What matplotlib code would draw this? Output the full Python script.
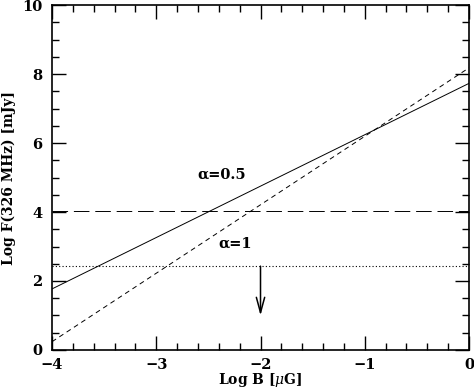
import numpy as np
import matplotlib
matplotlib.use("Agg")
import matplotlib.pyplot as plt
from matplotlib.ticker import MultipleLocator

# data
x_range = [-4.0, 0.0]
alpha05_line = [1.77, 7.73]   # Log F at x = -4 and x = 0
alpha1_line = [0.24, 8.18]
upper_dashed = 4.03
upper_dotted = 2.43
arrow_x = -2.0
arrow_end = 1.0
labels = ["\u03b1=0.5", "\u03b1=1"]
label_pos = [(-2.37, 5.07), (-2.24, 3.07)]

plt.rcParams['font.family'] = ['DejaVu Serif']
plt.rcParams['mathtext.fontset'] = 'dejavuserif'

fig = plt.figure(figsize=(4.74, 3.89), dpi=100)
ax = fig.add_axes([0.1097, 0.1003, 0.8798, 0.8867])

ax.plot(x_range, alpha05_line, color='black', lw=0.7)
ax.plot(x_range, alpha1_line, color='black', lw=0.7, dashes=(5, 4))
ax.axhline(upper_dashed, color='black', lw=0.7, dashes=(16, 6))
ax.axhline(upper_dotted, color='black', lw=0.8, dashes=(1, 2))

ax.annotate('', xy=(arrow_x, arrow_end), xytext=(arrow_x, upper_dotted),
            arrowprops=dict(arrowstyle='->, head_length=1.1, head_width=0.3',
                            color='black', lw=1.1, shrinkA=0, shrinkB=0))

for txt, (lx, ly) in zip(labels, label_pos):
    ax.text(lx, ly, txt, ha='center', va='center', fontsize=10.5, fontweight='bold')

ax.set_xlim(-4, 0)
ax.set_ylim(0, 10)
ax.xaxis.set_major_locator(MultipleLocator(1))
ax.xaxis.set_minor_locator(MultipleLocator(0.2))
ax.yaxis.set_major_locator(MultipleLocator(2))
ax.yaxis.set_minor_locator(MultipleLocator(0.5))
ax.tick_params(which='both', direction='in', top=True, right=True, width=1.0)
ax.tick_params(which='major', length=10, labelsize=10.5)
ax.tick_params(axis='x', which='major', pad=6)
ax.tick_params(axis='y', which='major', pad=7)
ax.tick_params(which='minor', length=5)
ax.xaxis.set_major_formatter(plt.FuncFormatter(lambda v, p: ('%d' % v).replace('-', '\u2212')))
ax.yaxis.set_major_formatter(plt.FuncFormatter(lambda v, p: '%d' % v))
for lab in ax.get_xticklabels() + ax.get_yticklabels():
    lab.set_fontweight('bold')
for sp in ax.spines.values():
    sp.set_linewidth(1.2)

ax.set_xlabel(r'Log B [$\mu$G]', fontsize=10, fontweight='bold', labelpad=-1)
ax.set_ylabel('Log F(326 MHz) [mJy]', fontsize=10, fontweight='bold', labelpad=4)

fig.savefig('out.png', dpi=100)
